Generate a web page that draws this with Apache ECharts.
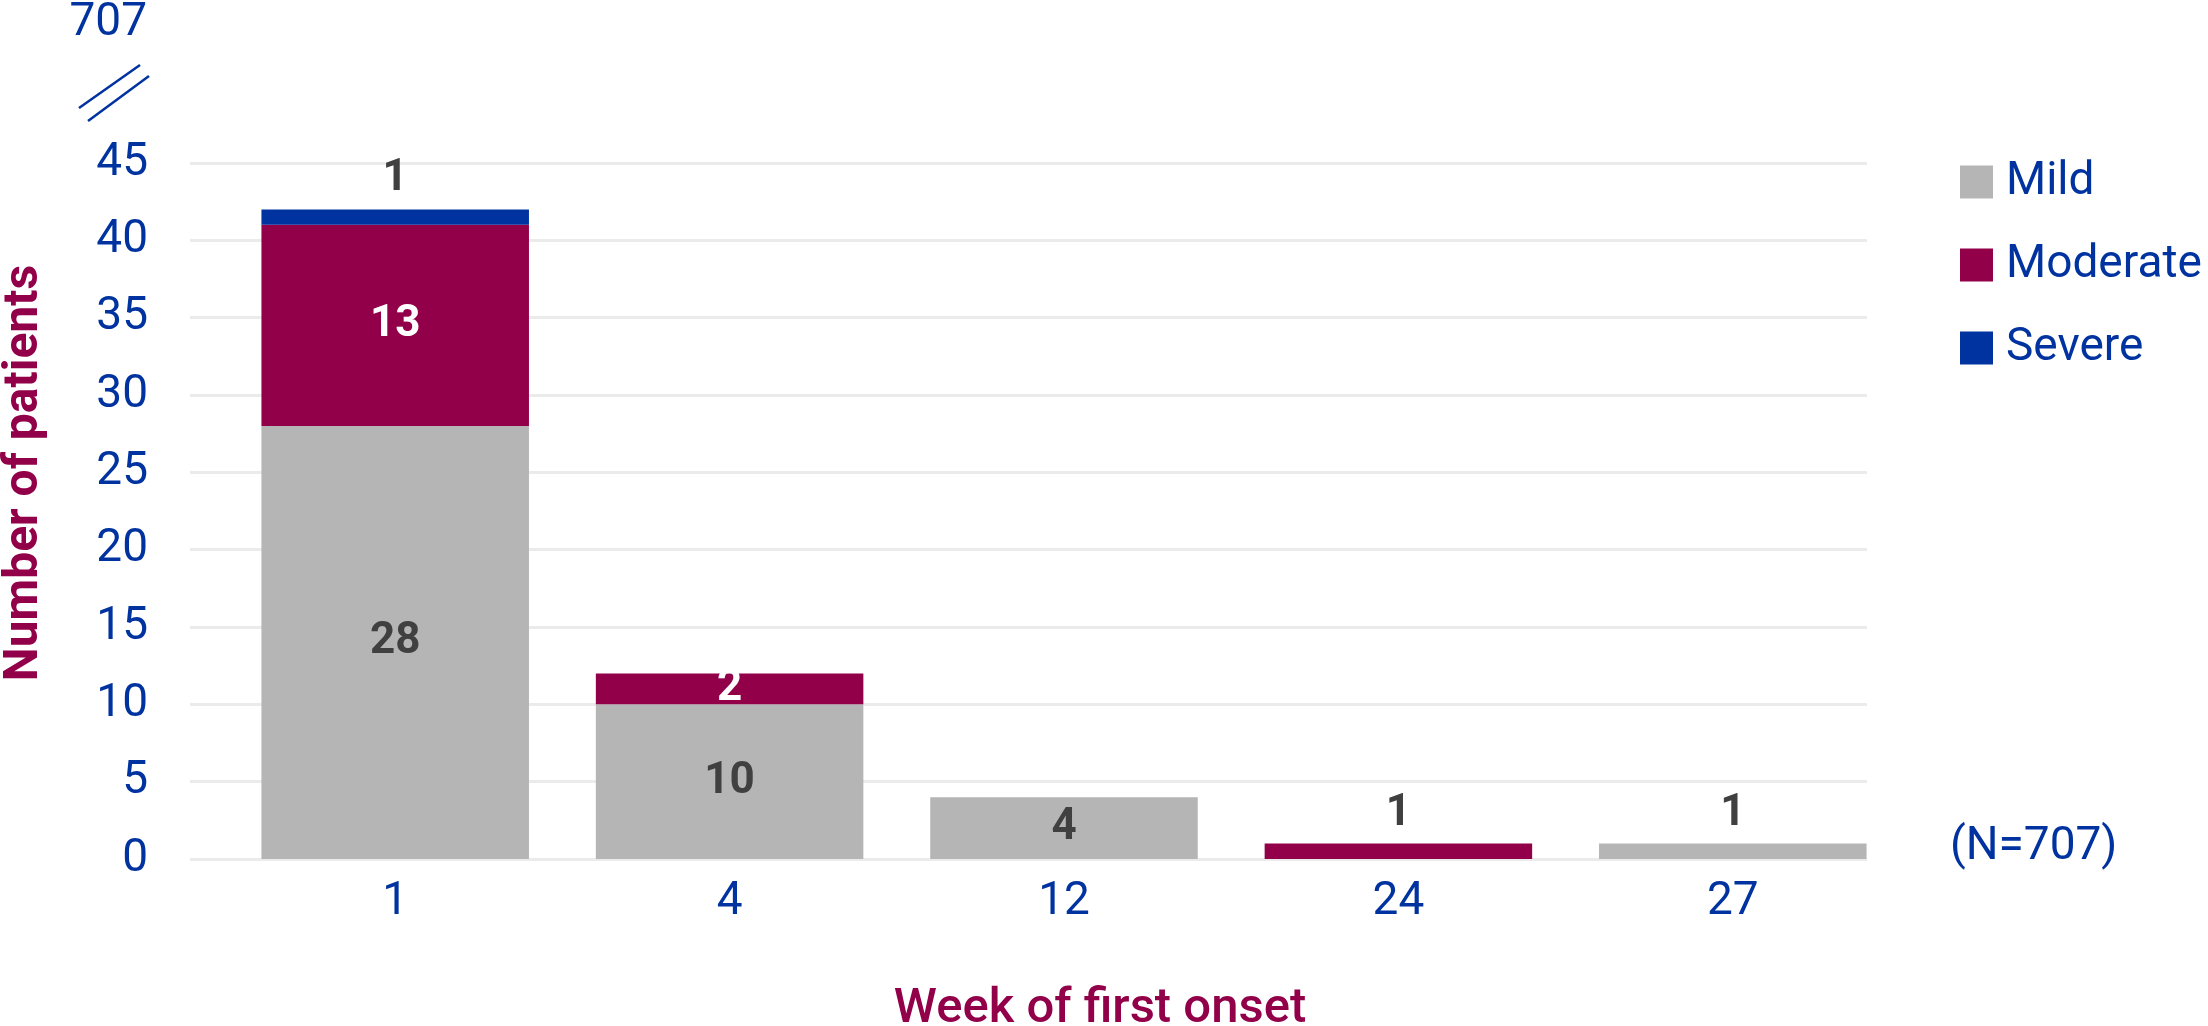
<!DOCTYPE html>
<html>
<head>
<meta charset="utf-8">
<title>Week of first onset</title>
<script src="https://cdn.jsdelivr.net/npm/echarts@6/dist/echarts.min.js"></script>
<style>
  html, body { margin: 0; padding: 0; background: #fff; }
  #onset-chart { width: 2208px; height: 1026px; }
</style>
</head>
<body>
<div id="onset-chart"></div>
<script>
// data
var weeks = ['1', '4', '12', '24', '27'];
var mild = [28, 10, 4, null, 1];
var moderate = [13, 2, null, 1, null];
var severe = [1, null, null, null, null];
var yTicks = [0, 5, 10, 15, 20, 25, 30, 35, 40, 45];
var totalN = 707;

var BLUE = '#0033A0';
var CRIMSON = '#910048';
var GREY = '#B5B5B5';
var LABEL_DARK = '#404040';

var yMin = yTicks[0];
var yMax = yTicks[yTicks.length - 1];

// small segments get their number above the bar, the others inside
function items(values, insideColor) {
  return values.map(function (v) {
    if (v == null) return '-';
    if (v < 2) {
      return { value: v, label: { position: 'top', color: LABEL_DARK, distance: 8 } };
    }
    return { value: v, label: { position: 'inside', color: insideColor } };
  });
}

var labelBase = {
  show: true,
  fontFamily: 'Roboto',
  fontWeight: 'bold',
  fontSize: 44
};

var chart = echarts.init(document.getElementById('onset-chart'));
chart.setOption({
  animation: false,
  textStyle: { fontFamily: 'Roboto' },
  // grid 0 carries the value scale and its gridlines, grid 1 the bars
  grid: [
    { left: 190, right: 341, top: 163, bottom: 167, containLabel: false, outerBoundsMode: 'none' },
    { left: 228, right: 308, top: 163, bottom: 167, containLabel: false, outerBoundsMode: 'none' }
  ],
  legend: {
    orient: 'vertical',
    left: 1955,
    top: 154,
    icon: 'rect',
    itemWidth: 33,
    itemHeight: 33,
    itemGap: 37,
    textStyle: { color: BLUE, fontSize: 46, fontFamily: 'Roboto', padding: [0, 0, 0, 8] },
    data: ['Mild', 'Moderate', 'Severe']
  },
  xAxis: [
    { type: 'value', gridIndex: 0, min: 0, max: 1, show: false },
    {
      type: 'category',
      gridIndex: 1,
      data: weeks,
      axisTick: { show: false },
      axisLine: { show: false },
      axisLabel: { color: BLUE, fontSize: 46, margin: 20 },
      name: 'Week of first onset',
      nameLocation: 'middle',
      nameGap: 126,
      nameTextStyle: { color: CRIMSON, fontSize: 49, fontWeight: 500, padding: [0, 0, 0, 72] }
    }
  ],
  yAxis: [
    {
      type: 'value',
      gridIndex: 0,
      min: yMin,
      max: yMax,
      interval: 5,
      axisLine: { show: false },
      axisTick: { show: false },
      splitLine: { lineStyle: { color: '#ebebeb', width: 3 } },
      axisLabel: { color: BLUE, fontSize: 46, margin: 42 },
      name: 'Number of patients',
      nameLocation: 'middle',
      nameRotate: 90,
      nameGap: 141,
      nameTextStyle: { color: CRIMSON, fontSize: 48, fontWeight: 'bold', padding: [0, 0, 0, 76] }
    },
    { type: 'value', gridIndex: 1, min: yMin, max: yMax, show: false }
  ],
  series: [
    {
      name: 'Mild', type: 'bar', stack: 'onset', barWidth: '80%',
      xAxisIndex: 1, yAxisIndex: 1,
      itemStyle: { color: GREY },
      label: labelBase,
      data: items(mild, LABEL_DARK)
    },
    {
      name: 'Moderate', type: 'bar', stack: 'onset',
      xAxisIndex: 1, yAxisIndex: 1,
      itemStyle: { color: CRIMSON },
      label: labelBase,
      data: items(moderate, '#ffffff')
    },
    {
      name: 'Severe', type: 'bar', stack: 'onset',
      xAxisIndex: 1, yAxisIndex: 1,
      itemStyle: { color: BLUE },
      label: labelBase,
      data: items(severe, '#ffffff')
    }
  ],
  graphic: [
    // broken-axis marker with the total on top
    {
      type: 'text', right: 2208 - 147, top: 0,
      style: { text: String(totalN), fill: BLUE, fontSize: 46, fontFamily: 'Roboto' }
    },
    { type: 'line', shape: { x1: 79, y1: 108, x2: 140, y2: 65 }, style: { stroke: BLUE, lineWidth: 2.5 } },
    { type: 'line', shape: { x1: 88, y1: 121, x2: 149, y2: 76 }, style: { stroke: BLUE, lineWidth: 2.5 } },
    {
      type: 'text', left: 1950, top: 824,
      style: { text: '(N=' + totalN + ')', fill: BLUE, fontSize: 46, fontFamily: 'Roboto' }
    }
  ]
});
</script>
</body>
</html>
